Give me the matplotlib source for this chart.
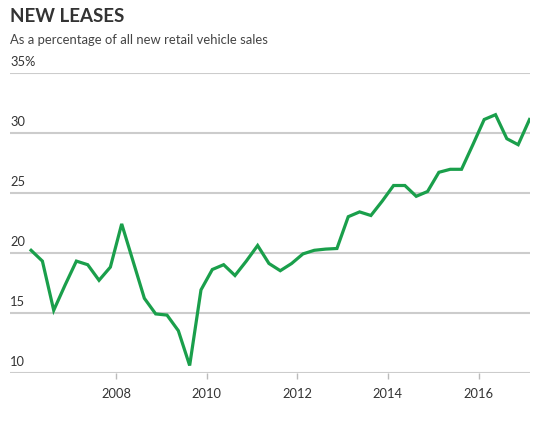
import matplotlib
matplotlib.use("Agg")
import matplotlib.pyplot as plt
import matplotlib.transforms as mtransforms
import numpy as np

# quarterly lease share, Q1 2006 .. Q1 2017
lease_share = [20.2, 19.3, 15.2, 17.3, 19.3, 19.0, 17.7, 18.8,
               22.4, 19.3, 16.2, 14.9, 14.8, 13.5, 10.6, 16.9,
               18.6, 19.0, 18.1, 19.3, 20.6, 19.1, 18.5, 19.1,
               19.9, 20.2, 20.3, 20.35, 23.0, 23.4, 23.1, 24.3,
               25.6, 25.6, 24.7, 25.1, 26.7, 26.95, 26.95, 29.0,
               31.1, 31.5, 29.5, 29.0, 31.1]
quarters = 2006.125 + 0.25 * np.arange(len(lease_share))

y_ticks = [10, 15, 20, 25, 30, 35]
y_labels = ["10", "15", "20", "25", "30", "35%"]
x_ticks = [2008, 2010, 2012, 2014, 2016]

plt.rcParams["font.family"] = ["Lato", "DejaVu Sans"]

W, H = 549, 423
fig = plt.figure(figsize=(W / 100, H / 100), dpi=100)
ax = fig.add_axes([10 / W, 1 - 372.7 / H, (529.5 - 10) / W, (372.7 - 72.7) / H])

ax.plot(quarters, lease_share, color="#1a9f4b", lw=2.3, solid_joinstyle="miter", zorder=3)

ax.set_xlim(2005.66, 2017.125)
ax.set_ylim(10, 35)
ax.set_yticks(y_ticks)
ax.set_yticklabels([])
ax.tick_params(axis="y", length=0)
ax.grid(axis="y", color="#cccccc", lw=1.5, zorder=0)
ax.set_axisbelow(True)

ax.set_xticks(x_ticks)
ax.set_xticklabels([str(t) for t in x_ticks], fontsize=9.3, color="#333333")
ax.tick_params(axis="x", length=4, width=1, color="#bbbbbb", pad=7)

for side in ["top", "right", "left", "bottom"]:
    ax.spines[side].set_visible(False)

trans = mtransforms.blended_transform_factory(ax.transAxes, ax.transData)
for v, lab in zip(y_ticks, y_labels):
    ax.text(0.0, v + 0.4, lab, transform=trans, ha="left", va="bottom",
            fontsize=9.3, color="#333333")

fig.text(10 / W, 1 - 17 / H, "NEW LEASES", fontsize=13.5, fontweight="bold",
         color="#333333", ha="left", va="center")
fig.text(10 / W, 1 - 40 / H, "As a percentage of all new retail vehicle sales",
         fontsize=9.4, color="#444444", ha="left", va="center")

fig.savefig("out.png", dpi=100)
